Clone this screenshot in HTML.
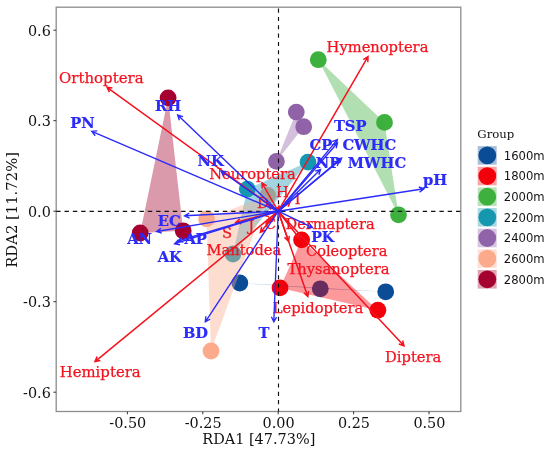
<!DOCTYPE html>
<html><head><meta charset="utf-8"><title>RDA biplot</title>
<style>
html,body{margin:0;padding:0;background:#fff;}
body{width:550px;height:450px;overflow:hidden;position:relative;}
svg{position:absolute;left:0;top:0;display:block;}
.ser{font-family:"DejaVu Serif","Liberation Serif",serif;}
.san{font-family:"DejaVu Sans","Liberation Sans",sans-serif;}
.tick{font-size:14.4px;fill:#111;}
.ttl{font-size:14.8px;fill:#111;}
.rt{font-size:14.7px;fill:#F4121E;stroke:#F4121E;stroke-width:0.25px;}
.bt{font-size:14.7px;font-weight:bold;fill:#2B2BFA;stroke:#2B2BFA;stroke-width:0.2px;}
.lg{font-size:11.6px;fill:#111;}
</style></head><body>
<svg width="550" height="450" viewBox="0 0 550 450">
<rect x="0" y="0" width="550" height="450" fill="#fff"/>
<rect x="56.2" y="7.2" width="404.6" height="404.3" fill="#fff" stroke="#8c8c8c" stroke-width="1.3"/>
<line x1="127.4" y1="411.5" x2="127.4" y2="414.3" stroke="#333" stroke-width="1"/>
<text class="ser tick" x="127.8" y="427.5" text-anchor="middle">-0.50</text>
<line x1="202.8" y1="411.5" x2="202.8" y2="414.3" stroke="#333" stroke-width="1"/>
<text class="ser tick" x="203.2" y="427.5" text-anchor="middle">-0.25</text>
<line x1="278.2" y1="411.5" x2="278.2" y2="414.3" stroke="#333" stroke-width="1"/>
<text class="ser tick" x="278.6" y="427.5" text-anchor="middle">0.00</text>
<line x1="353.6" y1="411.5" x2="353.6" y2="414.3" stroke="#333" stroke-width="1"/>
<text class="ser tick" x="354.0" y="427.5" text-anchor="middle">0.25</text>
<line x1="429.0" y1="411.5" x2="429.0" y2="414.3" stroke="#333" stroke-width="1"/>
<text class="ser tick" x="429.4" y="427.5" text-anchor="middle">0.50</text>
<line x1="53.4" y1="30.2" x2="56.2" y2="30.2" stroke="#333" stroke-width="1"/>
<text class="ser tick" x="50.8" y="35.7" text-anchor="end">0.6</text>
<line x1="53.4" y1="120.7" x2="56.2" y2="120.7" stroke="#333" stroke-width="1"/>
<text class="ser tick" x="50.8" y="126.2" text-anchor="end">0.3</text>
<line x1="53.4" y1="211.2" x2="56.2" y2="211.2" stroke="#333" stroke-width="1"/>
<text class="ser tick" x="50.8" y="216.7" text-anchor="end">0.0</text>
<line x1="53.4" y1="301.7" x2="56.2" y2="301.7" stroke="#333" stroke-width="1"/>
<text class="ser tick" x="50.8" y="307.2" text-anchor="end">-0.3</text>
<line x1="53.4" y1="392.2" x2="56.2" y2="392.2" stroke="#333" stroke-width="1"/>
<text class="ser tick" x="50.8" y="397.7" text-anchor="end">-0.6</text>
<text class="ser ttl" style="font-size:14.45px" x="258.8" y="444.0" text-anchor="middle">RDA1 [47.73%]</text>
<text class="ser ttl" transform="translate(16.8 209.9) rotate(-90)" text-anchor="middle">RDA2 [11.72%]</text>
<circle cx="239.8" cy="283" r="8.4" fill="#0A4C96"/>
<circle cx="320.3" cy="288.8" r="8.4" fill="#0A4C96"/>
<circle cx="385.7" cy="291.8" r="8.4" fill="#0A4C96"/>
<circle cx="301.6" cy="239.9" r="8.4" fill="#F4000A"/>
<circle cx="280" cy="287.9" r="8.4" fill="#F4000A"/>
<circle cx="377.9" cy="310.2" r="8.4" fill="#F4000A"/>
<circle cx="318.3" cy="59.7" r="8.4" fill="#3DB03D"/>
<circle cx="384.5" cy="122.4" r="8.4" fill="#3DB03D"/>
<circle cx="398.5" cy="214.8" r="8.4" fill="#3DB03D"/>
<circle cx="247.3" cy="189.1" r="8.4" fill="#1697B0"/>
<circle cx="308" cy="162.1" r="8.4" fill="#1697B0"/>
<circle cx="233" cy="254" r="8.4" fill="#1697B0"/>
<circle cx="296.3" cy="112.1" r="8.4" fill="#9062A8"/>
<circle cx="303.7" cy="126.7" r="8.4" fill="#9062A8"/>
<circle cx="276.4" cy="161.4" r="8.4" fill="#9062A8"/>
<circle cx="206.6" cy="218.8" r="8.4" fill="#FCAA8C"/>
<circle cx="267.8" cy="195.5" r="8.4" fill="#FCAA8C"/>
<circle cx="211" cy="351" r="8.4" fill="#FCAA8C"/>
<circle cx="168.1" cy="97.9" r="8.4" fill="#A50030"/>
<circle cx="140.2" cy="233" r="8.4" fill="#A50030"/>
<circle cx="183.2" cy="230.8" r="8.4" fill="#A50030"/>
<polygon points="239.8,283 320.3,288.8 385.7,291.8" fill="#0A4C96" fill-opacity="0.4"/>
<polygon points="301.6,239.9 280,287.9 377.9,310.2" fill="#F4000A" fill-opacity="0.4"/>
<polygon points="318.3,59.7 384.5,122.4 398.5,214.8" fill="#3DB03D" fill-opacity="0.4"/>
<polygon points="247.3,189.1 308,162.1 233,254" fill="#1697B0" fill-opacity="0.4"/>
<polygon points="296.3,112.1 303.7,126.7 276.4,161.4" fill="#9062A8" fill-opacity="0.4"/>
<polygon points="206.6,218.8 267.8,195.5 211,351" fill="#FCAA8C" fill-opacity="0.4"/>
<polygon points="168.1,97.9 140.2,233 183.2,230.8" fill="#A50030" fill-opacity="0.4"/>
<line x1="56.2" y1="211.39999999999998" x2="460.8" y2="211.39999999999998" stroke="#111" stroke-width="1.25" stroke-dasharray="4.4 3.93"/>
<line x1="278.5" y1="8.6" x2="278.5" y2="411.5" stroke="#111" stroke-width="1.15" stroke-dasharray="4.1 4.23"/>
<path d="M278.2 211.2L107.0 87.3M112.4 88.1L107.0 87.3L109.4 92.2" stroke="#F4121E" stroke-width="1.5" fill="none" stroke-linecap="butt" stroke-linejoin="miter"/>
<path d="M278.2 211.2L368.0 56.7M367.8 62.2L368.0 56.7L363.3 59.6" stroke="#F4121E" stroke-width="1.5" fill="none" stroke-linecap="butt" stroke-linejoin="miter"/>
<path d="M278.2 211.2L95.0 361.6M97.1 356.5L95.0 361.6L100.4 360.5" stroke="#F4121E" stroke-width="1.5" fill="none" stroke-linecap="butt" stroke-linejoin="miter"/>
<path d="M278.2 211.2L404.0 345.8M398.8 344.0L404.0 345.8L402.6 340.5" stroke="#F4121E" stroke-width="1.5" fill="none" stroke-linecap="butt" stroke-linejoin="miter"/>
<path d="M278.2 211.2L262.0 183.0M266.7 185.9L262.0 183.0L262.2 188.5" stroke="#F4121E" stroke-width="1.5" fill="none" stroke-linecap="butt" stroke-linejoin="miter"/>
<path d="M278.2 211.2L260.4 232.3M261.6 226.9L260.4 232.3L265.5 230.3" stroke="#F4121E" stroke-width="1.5" fill="none" stroke-linecap="butt" stroke-linejoin="miter"/>
<path d="M278.2 211.2L235.9 222.4M239.9 218.7L235.9 222.4L241.3 223.7" stroke="#F4121E" stroke-width="1.5" fill="none" stroke-linecap="butt" stroke-linejoin="miter"/>
<path d="M278.2 211.2L288.5 241.2M284.5 237.4L288.5 241.2L289.4 235.8" stroke="#F4121E" stroke-width="1.5" fill="none" stroke-linecap="butt" stroke-linejoin="miter"/>
<path d="M278.2 211.2L307.8 296.5M303.8 292.8L307.8 296.5L308.6 291.1" stroke="#F4121E" stroke-width="1.5" fill="none" stroke-linecap="butt" stroke-linejoin="miter"/>
<path d="M278.2 211.2L279.0 206.0M280.8 211.2L279.0 206.0L275.7 210.4" stroke="#F4121E" stroke-width="1.5" fill="none" stroke-linecap="butt" stroke-linejoin="miter"/>
<path d="M278.2 211.2L290.3 201.6M288.1 206.6L290.3 201.6L284.9 202.6" stroke="#F4121E" stroke-width="1.5" fill="none" stroke-linecap="butt" stroke-linejoin="miter"/>
<path d="M278.2 211.2L268.0 205.0M273.5 205.3L268.0 205.0L270.8 209.7" stroke="#F4121E" stroke-width="1.5" fill="none" stroke-linecap="butt" stroke-linejoin="miter"/>
<path d="M278.2 211.2L267.8 222.7M269.1 217.4L267.8 222.7L273.0 220.8" stroke="#F4121E" stroke-width="1.5" fill="none" stroke-linecap="butt" stroke-linejoin="miter"/>
<path d="M278.2 211.2L263.6 215.4M267.6 211.6L263.6 215.4L269.0 216.5" stroke="#F4121E" stroke-width="1.5" fill="none" stroke-linecap="butt" stroke-linejoin="miter"/>
<path d="M278.2 211.2L299.5 238.5M294.5 236.3L299.5 238.5L298.5 233.1" stroke="#F4121E" stroke-width="1.5" fill="none" stroke-linecap="butt" stroke-linejoin="miter"/>
<text class="ser rt" style="font-size:14.95px" x="59.1" y="83.0">Orthoptera</text>
<text class="ser rt" x="326.6" y="52.4">Hymenoptera</text>
<text class="ser rt" style="font-size:14.9px" x="59.7" y="377.2">Hemiptera</text>
<text class="ser rt" x="385.0" y="361.8">Diptera</text>
<text class="ser rt" x="209.2" y="178.7">Neuroptera</text>
<text class="ser rt" x="206.4" y="255.3">Mantodea</text>
<text class="ser rt" style="font-size:14.55px" x="285.5" y="229.0">Dermaptera</text>
<text class="ser rt" style="font-size:14.55px" x="306.0" y="255.5">Coleoptera</text>
<text class="ser rt" x="287.5" y="273.5">Thysanoptera</text>
<text class="ser rt" x="272.7" y="313.2">Lepidoptera</text>
<text class="ser rt" x="276.0" y="196.7">H</text>
<text class="ser rt" x="256.9" y="207.8">D</text>
<text class="ser rt" x="294.8" y="204.1">I</text>
<text class="ser rt" x="222.0" y="238.4">S</text>
<text class="ser rt" x="248.3" y="230.8">J</text>
<text class="ser rt" x="264.8" y="229.0">C</text>
<path d="M278.2 211.2L91.8 131.4M97.3 130.9L91.8 131.4L95.2 135.7" stroke="#2B2BFA" stroke-width="1.38" fill="none" stroke-linecap="butt" stroke-linejoin="miter"/>
<path d="M278.2 211.2L177.7 115.1M183.0 116.6L177.7 115.1L179.4 120.3" stroke="#2B2BFA" stroke-width="1.38" fill="none" stroke-linecap="butt" stroke-linejoin="miter"/>
<path d="M278.2 211.2L221.0 171.0M226.5 171.7L221.0 171.0L223.5 175.9" stroke="#2B2BFA" stroke-width="1.38" fill="none" stroke-linecap="butt" stroke-linejoin="miter"/>
<path d="M278.2 211.2L184.6 215.8M189.3 213.0L184.6 215.8L189.6 218.1" stroke="#2B2BFA" stroke-width="1.38" fill="none" stroke-linecap="butt" stroke-linejoin="miter"/>
<path d="M278.2 211.2L156.6 231.5M161.0 228.2L156.6 231.5L161.8 233.2" stroke="#2B2BFA" stroke-width="1.38" fill="none" stroke-linecap="butt" stroke-linejoin="miter"/>
<path d="M278.2 211.2L178.0 241.0M181.9 237.1L178.0 241.0L183.4 242.1" stroke="#2B2BFA" stroke-width="1.38" fill="none" stroke-linecap="butt" stroke-linejoin="miter"/>
<path d="M278.2 211.2L174.6 243.7M178.5 239.8L174.6 243.7L180.0 244.7" stroke="#2B2BFA" stroke-width="1.38" fill="none" stroke-linecap="butt" stroke-linejoin="miter"/>
<path d="M278.2 211.2L205.3 321.8M205.8 316.3L205.3 321.8L210.1 319.2" stroke="#2B2BFA" stroke-width="1.38" fill="none" stroke-linecap="butt" stroke-linejoin="miter"/>
<path d="M278.2 211.2L273.8 321.8M271.4 316.8L273.8 321.8L276.6 317.1" stroke="#2B2BFA" stroke-width="1.38" fill="none" stroke-linecap="butt" stroke-linejoin="miter"/>
<path d="M278.2 211.2L312.4 227.6M306.9 227.8L312.4 227.6L309.1 223.2" stroke="#2B2BFA" stroke-width="1.38" fill="none" stroke-linecap="butt" stroke-linejoin="miter"/>
<path d="M278.2 211.2L424.0 188.8M419.6 192.1L424.0 188.8L418.8 187.0" stroke="#2B2BFA" stroke-width="1.38" fill="none" stroke-linecap="butt" stroke-linejoin="miter"/>
<path d="M278.2 211.2L337.3 139.6M336.2 145.0L337.3 139.6L332.2 141.7" stroke="#2B2BFA" stroke-width="1.38" fill="none" stroke-linecap="butt" stroke-linejoin="miter"/>
<path d="M278.2 211.2L337.4 143.0M336.2 148.4L337.4 143.0L332.3 145.0" stroke="#2B2BFA" stroke-width="1.38" fill="none" stroke-linecap="butt" stroke-linejoin="miter"/>
<path d="M278.2 211.2L341.6 158.1M339.5 163.2L341.6 158.1L336.2 159.2" stroke="#2B2BFA" stroke-width="1.38" fill="none" stroke-linecap="butt" stroke-linejoin="miter"/>
<path d="M278.2 211.2L339.3 160.8M337.2 165.9L339.3 160.8L333.9 161.9" stroke="#2B2BFA" stroke-width="1.38" fill="none" stroke-linecap="butt" stroke-linejoin="miter"/>
<path d="M278.2 211.2L320.5 169.5M318.9 174.7L320.5 169.5L315.2 171.1" stroke="#2B2BFA" stroke-width="1.38" fill="none" stroke-linecap="butt" stroke-linejoin="miter"/>
<text class="ser bt" x="70.2" y="127.7">PN</text>
<text class="ser bt" x="155.1" y="111.0">RH</text>
<text class="ser bt" x="197.6" y="165.8">NK</text>
<text class="ser bt" x="157.7" y="225.9">EC</text>
<text class="ser bt" x="127.2" y="244.4">AN</text>
<text class="ser bt" x="184.4" y="244.0">AP</text>
<text class="ser bt" x="157.7" y="262.2">AK</text>
<text class="ser bt" x="182.9" y="338.0">BD</text>
<text class="ser bt" x="258.4" y="338.0">T</text>
<text class="ser bt" style="font-size:14.2px" x="311.2" y="241.7">PK</text>
<text class="ser bt" x="423.0" y="184.6">pH</text>
<text class="ser bt" x="333.9" y="130.8">TSP</text>
<text class="ser bt" x="309.6" y="150.0">CP</text>
<text class="ser bt" x="342.4" y="150.0">CWHC</text>
<text class="ser bt" x="315.8" y="168.3">NP</text>
<text class="ser bt" x="347.8" y="168.3">MWHC</text>
<text class="ser" font-size="11.7" fill="#111" x="477.3" y="138.2">Group</text>
<rect x="477.7" y="146.10" width="19.0" height="18.6" fill="#0A4C96" fill-opacity="0.36"/>
<circle cx="487.3" cy="155.40" r="8.9" fill="#0A4C96"/>
<text class="san lg" x="503.8" y="159.80">1600m</text>
<rect x="477.7" y="166.75" width="19.0" height="18.6" fill="#F4000A" fill-opacity="0.36"/>
<circle cx="487.3" cy="176.05" r="8.9" fill="#F4000A"/>
<text class="san lg" x="503.8" y="180.45">1800m</text>
<rect x="477.7" y="187.40" width="19.0" height="18.6" fill="#3DB03D" fill-opacity="0.36"/>
<circle cx="487.3" cy="196.70" r="8.9" fill="#3DB03D"/>
<text class="san lg" x="503.8" y="201.10">2000m</text>
<rect x="477.7" y="208.05" width="19.0" height="18.6" fill="#1697B0" fill-opacity="0.36"/>
<circle cx="487.3" cy="217.35" r="8.9" fill="#1697B0"/>
<text class="san lg" x="503.8" y="221.75">2200m</text>
<rect x="477.7" y="228.70" width="19.0" height="18.6" fill="#9062A8" fill-opacity="0.36"/>
<circle cx="487.3" cy="238.00" r="8.9" fill="#9062A8"/>
<text class="san lg" x="503.8" y="242.40">2400m</text>
<rect x="477.7" y="249.35" width="19.0" height="18.6" fill="#FCAA8C" fill-opacity="0.36"/>
<circle cx="487.3" cy="258.65" r="8.9" fill="#FCAA8C"/>
<text class="san lg" x="503.8" y="263.05">2600m</text>
<rect x="477.7" y="270.00" width="19.0" height="18.6" fill="#A50030" fill-opacity="0.36"/>
<circle cx="487.3" cy="279.30" r="8.9" fill="#A50030"/>
<text class="san lg" x="503.8" y="283.70">2800m</text>
</svg></body></html>
